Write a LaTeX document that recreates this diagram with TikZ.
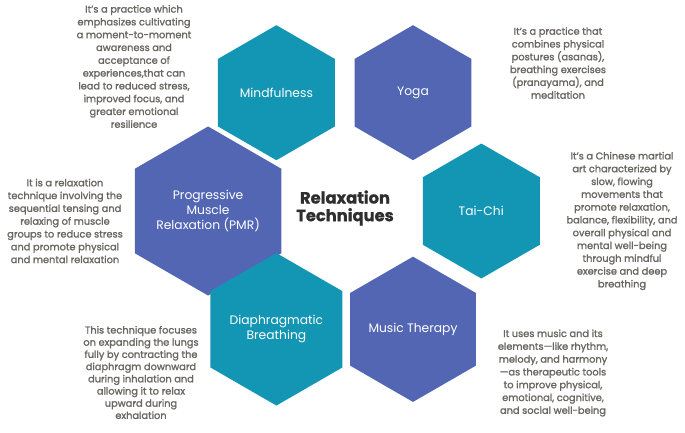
\documentclass[tikz,border=0pt]{standalone}
\usepackage{fontspec}
\setmainfont{Poppins}
\newfontfamily\descfont{Poppins}[FakeBold=1.6]
\newfontfamily\titlefont{Poppins Bold}[FakeBold=0.8]
\usetikzlibrary{shapes.geometric}
\definecolor{tealhex}{HTML}{1396B3}
\definecolor{bluehex}{HTML}{5266B4}
\definecolor{desctext}{HTML}{6A6762}
\definecolor{titletext}{HTML}{2E2E2E}
\tikzset{
  hexa/.style={regular polygon, regular polygon sides=6, shape border rotate=30,
    minimum size=135pt, inner sep=0pt, outer sep=0pt, text=white, align=center,
    font=\fontsize{12.3}{15}\selectfont},
  tealx/.style={hexa, fill=tealhex},
  bluex/.style={hexa, fill=bluehex},
  desc/.style={align=center, text=desctext, inner sep=0pt,
    font=\descfont\fontsize{9.8}{12.8}\selectfont},
  titlebox/.style={align=center, text=titletext, inner sep=0pt,
    font=\titlefont\fontsize{16.3}{17.7}\selectfont}
}
\begin{document}
\begin{tikzpicture}[x=1pt,y=-1pt]
\useasboundingbox (0,0) rectangle (685,433);
\fill[white] (0,0) rectangle (685,433);
% hexagons
\node[tealx] (mind) at (276.4,92.7) {Mindfulness};
\node[bluex] (yoga) at (413.0,92.7) {Yoga};
\node[bluex] (pmr)  at (208.1,211) {Progressive\\Muscle\\Relaxation (PMR)};
\node[tealx] (tai)  at (481.3,211) {Tai-Chi};
\node[tealx] (dia)  at (276.4,329.3) {Diaphragmatic\\Breathing};
\node[bluex] (music) at (413.0,329.3) {Music Therapy};
% title
\node[titlebox] (title) at (345,208) {Relaxation\\Techniques};
% descriptions
\node[desc] (dmind) at (134,66.5) {It’s a practice which\\emphasizes cultivating\\a moment-to-moment\\awareness and\\acceptance of\\experiences,that can\\lead to reduced stress,\\improved focus, and\\greater emotional\\resilience};
\node[desc] (dyoga) at (558,63) {It’s a practice that\\combines physical\\postures (asanas),\\breathing exercises\\(pranayama), and\\meditation};
\node[desc] (dpmr) at (65,221) {It is a relaxation\\technique involving the\\sequential tensing and\\relaxing of muscle\\groups to reduce stress\\and promote physical\\and mental relaxation};
\node[desc] (dtai) at (622,221) {It’s a Chinese martial\\art characterized by\\slow, flowing\\movements that\\promote relaxation,\\balance, flexibility, and\\overall physical and\\mental well-being\\through mindful\\exercise and deep\\breathing};
\node[desc, font=\descfont\fontsize{9.8}{12.2}\selectfont] (ddia) at (141,372.5) {This technique focuses\\on expanding the lungs\\fully by contracting the\\diaphragm downward\\during inhalation and\\allowing it to relax\\upward during\\exhalation};
\node[desc] (dmusic) at (553,373) {It uses music and its\\elements—like rhythm,\\melody, and harmony\\—as therapeutic tools\\to improve physical,\\emotional, cognitive,\\and social well-being};
\end{tikzpicture}
\end{document}
